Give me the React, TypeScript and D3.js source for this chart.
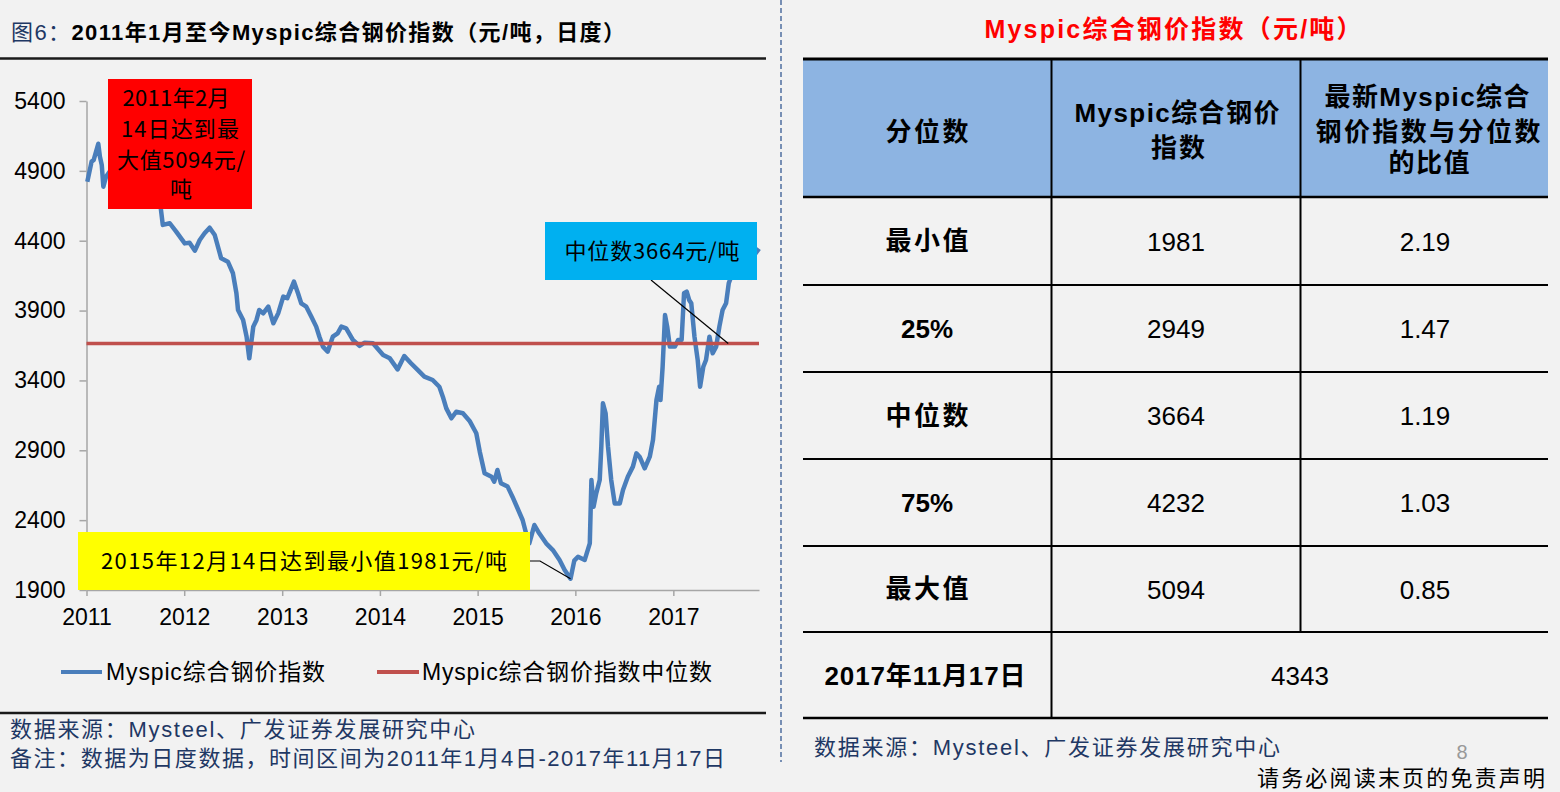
import React, { useEffect, useRef } from 'react';
import * as d3 from 'd3';

const W = 1560;
const H = 792;
const BG = '#f2f2f2';
const NAVY = '#1f3864';
const AXIS = '#a6a6a6';
const BLUE = '#4a7ebb';
const RED = '#c0504d';
const LATIN = '"Liberation Sans", Arial, "Noto Sans CJK SC", sans-serif';
const CJK = '"Noto Sans CJK SC", "Liberation Sans", sans-serif';

// Myspic 综合钢价指数, sampled off the daily series (元/吨)
const indexDates = [
  '2011-01-04', '2011-01-20', '2011-01-28', '2011-02-14', '2011-02-20', '2011-02-27', '2011-03-05', '2011-03-15',
  '2011-04-10', '2011-05-10', '2011-06-10', '2011-07-10', '2011-08-10', '2011-09-10', '2011-10-05', '2011-10-13',
  '2011-11-08', '2011-12-02', '2012-01-03', '2012-01-21', '2012-02-10', '2012-02-28', '2012-03-17', '2012-04-05',
  '2012-04-24', '2012-05-18', '2012-06-12', '2012-07-01', '2012-07-14', '2012-07-20', '2012-08-08', '2012-08-21',
  '2012-08-31', '2012-09-15', '2012-09-27', '2012-10-07', '2012-10-22', '2012-11-10', '2012-11-29', '2012-12-17',
  '2013-01-05', '2013-01-20', '2013-01-30', '2013-02-14', '2013-03-01', '2013-03-13', '2013-04-01', '2013-04-20',
  '2013-05-08', '2013-05-20', '2013-06-02', '2013-06-20', '2013-07-09', '2013-07-27', '2013-08-10', '2013-08-28',
  '2013-09-22', '2013-10-17', '2013-11-05', '2013-12-06', '2014-01-13', '2014-02-07', '2014-03-08', '2014-04-02',
  '2014-04-27', '2014-05-22', '2014-06-16', '2014-07-17', '2014-08-11', '2014-08-24', '2014-09-06', '2014-09-25',
  '2014-10-13', '2014-11-07', '2014-12-02', '2014-12-27', '2015-01-09', '2015-01-27', '2015-02-22', '2015-03-04',
  '2015-03-16', '2015-03-29', '2015-04-23', '2015-05-11', '2015-05-30', '2015-06-18', '2015-07-01', '2015-07-13',
  '2015-08-01', '2015-08-19', '2015-09-14', '2015-10-09', '2015-11-03', '2015-11-22', '2015-12-14', '2015-12-28',
  '2016-01-11', '2016-02-05', '2016-02-24', '2016-03-01', '2016-03-09', '2016-03-19', '2016-04-01', '2016-04-07',
  '2016-04-13', '2016-04-23', '2016-05-02', '2016-05-14', '2016-05-27', '2016-06-15', '2016-06-27', '2016-07-15',
  '2016-08-03', '2016-08-16', '2016-08-28', '2016-09-16', '2016-10-05', '2016-10-17', '2016-10-30', '2016-11-09',
  '2016-11-14', '2016-11-22', '2016-12-01', '2016-12-09', '2016-12-19', '2017-01-07', '2017-01-19', '2017-02-01',
  '2017-02-10', '2017-02-20', '2017-03-01', '2017-03-09', '2017-03-21', '2017-04-02', '2017-04-11', '2017-04-23',
  '2017-05-03', '2017-05-16', '2017-05-28', '2017-06-10', '2017-06-22', '2017-07-04', '2017-07-17', '2017-07-27',
  '2017-08-20', '2017-09-12', '2017-10-12', '2017-11-17',
];
const indexValues = [
  4822, 4966, 4978, 5094, 5002, 4942, 4787, 4858,
  4930, 4860, 4800, 4870, 4900, 4800, 4640, 4513,
  4525, 4465, 4381, 4386, 4329, 4405, 4453, 4493,
  4441, 4274, 4250, 4167, 4024, 3904, 3833, 3713,
  3558, 3785, 3833, 3904, 3880, 3928, 3809, 3880,
  4000, 3988, 4036, 4107, 4024, 3952, 3928, 3856,
  3785, 3713, 3642, 3606, 3713, 3737, 3785, 3773,
  3690, 3647, 3670, 3666, 3582, 3558, 3479, 3575,
  3523, 3475, 3427, 3403, 3355, 3284, 3200, 3129,
  3176, 3165, 3110, 3022, 2890, 2735, 2711, 2675,
  2759, 2664, 2640, 2568, 2485, 2401, 2306, 2234,
  2365, 2306, 2234, 2186, 2115, 2043, 1981, 2110,
  2138, 2115, 2234, 2687, 2496, 2592, 2687, 2926,
  3236, 3165, 2926, 2687, 2520, 2520, 2616, 2711,
  2783, 2878, 2854, 2771, 2854, 2974, 3260, 3355,
  3260, 3498, 3868, 3785, 3642, 3642, 3690, 3690,
  4024, 4036, 3976, 3952, 3713, 3546, 3355, 3498,
  3546, 3713, 3594, 3642, 3785, 3904, 3952, 4095,
  4220, 4330, 4250, 4343,
];
const medianValue = 3664;
const yTicks = [1900, 2400, 2900, 3400, 3900, 4400, 4900, 5400];
const xTickYears = [2011, 2012, 2013, 2014, 2015, 2016, 2017];

// table on the right
const quantileLabels = ['最小值', '25%', '中位数', '75%', '最大值'];
const quantileValues = ['1981', '2949', '3664', '4232', '5094'];
const latestRatios = ['2.19', '1.47', '1.19', '1.03', '0.85'];
const latestDate = '2017年11月17日';
const latestValue = '4343';

const parseDate = d3.timeParse('%Y-%m-%d');
const series = indexDates.map((d, i) => ({ date: parseDate(d) as Date, value: indexValues[i] }));

const x = d3
  .scaleTime()
  .domain([new Date(2011, 0, 1), new Date(2017, 10, 17)])
  .range([86.5, 759]);
const y = d3.scaleLinear().domain([1900, 5400]).range([590, 101]);

const Chart = () => {
  const axisRef = useRef<SVGGElement>(null);

  useEffect(() => {
    const g = d3.select(axisRef.current);
    g.selectAll('*').remove();

    const yAxis = g
      .append('g')
      .attr('transform', `translate(${x.range()[0]},0)`)
      .call(
        d3
          .axisLeft(y)
          .tickValues(yTicks)
          .tickFormat(d3.format('d'))
          .tickSize(7)
          .tickSizeOuter(0)
          .tickPadding(14)
      );
    const xAxis = g
      .append('g')
      .attr('transform', `translate(0,${y.range()[0]})`)
      .call(
        d3
          .axisBottom(x)
          .tickValues(xTickYears.map((yr) => new Date(yr, 0, 1)))
          .tickFormat((d) => d3.timeFormat('%Y')(d as Date))
          .tickSize(6)
          .tickSizeOuter(0)
          .tickPadding(13)
      );
    for (const a of [yAxis, xAxis]) {
      a.select('.domain').attr('stroke', AXIS).attr('stroke-width', 1.5);
      a.selectAll('.tick line').attr('stroke', AXIS).attr('stroke-width', 1.5);
      a.selectAll('.tick text')
        .attr('fill', '#000')
        .attr('font-size', 23)
        .attr('font-family', LATIN);
    }
  }, []);

  const line = d3
    .line<{ date: Date; value: number }>()
    .x((d) => x(d.date))
    .y((d) => y(d.value));

  const minPt = series[d3.minIndex(series, (d) => d.value)];
  const x0 = x.range()[0];
  const x1 = x.range()[1];
  const yMed = y(medianValue);
  const medAnchorX = x(new Date(2017, 6, 25));

  return (
    <g>
      <g ref={axisRef} />
      <path d={line(series) ?? ''} fill="none" stroke={BLUE} strokeWidth={4.5} strokeLinejoin="round" />
      <line x1={x0} x2={x1} y1={yMed} y2={yMed} stroke={RED} strokeWidth={3.5} />

      {/* max annotation */}
      <rect x={108} y={79} width={144} height={130} fill="#ff0000" />
      <g fontFamily={CJK} fontSize={22} textAnchor="middle" fill="#000">
        <text x={176} y={106} textLength={107} lengthAdjust="spacing">2011年2月</text>
        <text x={180} y={137} textLength={118} lengthAdjust="spacing">14日达到最</text>
        <text x={181} y={168} textLength={128} lengthAdjust="spacing">大值5094元/</text>
        <text x={181} y={197}>吨</text>
      </g>

      {/* min annotation */}
      <polyline
        points={`530,561 540,561 ${x(minPt.date)},${y(minPt.value)}`}
        fill="none"
        stroke="#000"
        strokeWidth={1.2}
      />
      <rect x={78} y={532} width={452} height={58} fill="#ffff00" />
      <text x={304} y={569} fontFamily={CJK} fontSize={22} textAnchor="middle" textLength={406} lengthAdjust="spacing">
        2015年12月14日达到最小值1981元/吨
      </text>

      {/* median annotation */}
      <line x1={651} y1={280} x2={medAnchorX} y2={yMed} stroke="#000" strokeWidth={1.2} />
      <rect x={545} y={222} width={212} height={58} fill="#00b0f0" />
      <text x={652} y={259} fontFamily={CJK} fontSize={22} textAnchor="middle" textLength={175} lengthAdjust="spacing">
        中位数3664元/吨
      </text>

      {/* legend */}
      <line x1={61} x2={102} y1={672} y2={672} stroke={BLUE} strokeWidth={4} />
      <text x={106} y={680} fontFamily={LATIN} fontSize={23} textLength={219} lengthAdjust="spacing">
        Myspic综合钢价指数
      </text>
      <line x1={377} x2={419} y1={672} y2={672} stroke={RED} strokeWidth={4} />
      <text x={422} y={680} fontFamily={LATIN} fontSize={23} textLength={290} lengthAdjust="spacing">
        Myspic综合钢价指数中位数
      </text>
    </g>
  );
};

const Table = () => {
  const left = 803;
  const right = 1548;
  const colX = [left, 1051.5, 1300.5, right];
  const colMid = [927, 1176, 1425];
  const headTop = 59;
  const rowLines = [197, 285, 372, 459, 546, 632, 718];
  const rowMid = rowLines.slice(0, -1).map((r, i) => (r + rowLines[i + 1]) / 2);

  return (
    <g>
      <text x={1173} y={38} fill="#ff0000" fontFamily={LATIN} fontWeight="bold" fontSize={25} textAnchor="middle" textLength={377} lengthAdjust="spacing">
        Myspic综合钢价指数（元/吨）
      </text>
      <rect x={left} y={headTop} width={right - left} height={rowLines[0] - headTop} fill="#8db4e2" />

      <g fontFamily={LATIN} fontWeight="bold" fontSize={26} textAnchor="middle" fill="#000">
        <text x={colMid[0]} y={141} textLength={83} lengthAdjust="spacing">分位数</text>
        <text x={1177} y={122} textLength={205} lengthAdjust="spacing">Myspic综合钢价</text>
        <text x={1178} y={157} textLength={54} lengthAdjust="spacing">指数</text>
        <text x={1427} y={106} textLength={205} lengthAdjust="spacing">最新Myspic综合</text>
        <text x={1428} y={141} textLength={225} lengthAdjust="spacing">钢价指数与分位数</text>
        <text x={1429} y={172} textLength={81} lengthAdjust="spacing">的比值</text>
      </g>

      {quantileLabels.map((lab, i) => {
        const cjk = /[\u4e00-\u9fff]/.test(lab);
        return (
          <g key={lab} textAnchor="middle" fill="#000">
            <text
              x={colMid[0]}
              y={rowMid[i] + 9}
              fontFamily={LATIN}
              fontWeight="bold"
              fontSize={26}
              textLength={cjk ? 83 : undefined}
              lengthAdjust="spacing"
            >
              {lab}
            </text>
            <text x={colMid[1]} y={rowMid[i] + 9.5} fontFamily={LATIN} fontSize={26}>
              {quantileValues[i]}
            </text>
            <text x={colMid[2]} y={rowMid[i] + 9.5} fontFamily={LATIN} fontSize={26}>
              {latestRatios[i]}
            </text>
          </g>
        );
      })}
      <text x={colMid[0] - 2} y={rowMid[5] + 9.5} fontFamily={LATIN} fontWeight="bold" fontSize={26} textAnchor="middle" textLength={201} lengthAdjust="spacing">
        {latestDate}
      </text>
      <text x={1300} y={rowMid[5] + 9.5} fontFamily={LATIN} fontSize={26} textAnchor="middle">
        {latestValue}
      </text>

      <g stroke="#000">
        <line x1={left} x2={right} y1={headTop} y2={headTop} strokeWidth={3} />
        {rowLines.map((r, i) => (
          <line key={r} x1={left} x2={right} y1={r} y2={r} strokeWidth={i === 0 || i === rowLines.length - 1 ? 2.5 : 2} />
        ))}
        <line x1={colX[1]} x2={colX[1]} y1={headTop} y2={rowLines[6]} strokeWidth={2} />
        <line x1={colX[2]} x2={colX[2]} y1={headTop} y2={rowLines[5]} strokeWidth={2} />
      </g>
    </g>
  );
};

export default function App() {
  return (
    <svg
      width={W}
      height={H}
      viewBox={`0 0 ${W} ${H}`}
      style={{ position: 'absolute', left: 0, top: 0, background: BG }}
    >
      <rect width={W} height={H} fill={BG} />

      {/* left panel heading */}
      <text x={11} y={40} fontFamily={LATIN} fontSize={22} textLength={614} lengthAdjust="spacing">
        <tspan fill={NAVY}>图6：</tspan>
        <tspan fontWeight="bold" fill="#000">2011年1月至今Myspic综合钢价指数（元/吨，日度）</tspan>
      </text>
      <line x1={0} x2={766} y1={58.5} y2={58.5} stroke="#1a1a1a" strokeWidth={2.5} />

      <Chart />

      <line x1={0} x2={766} y1={713} y2={713} stroke="#1a1a1a" strokeWidth={2.5} />
      <g fontFamily={LATIN} fontSize={22} fill={NAVY}>
        <text x={10} y={737} textLength={465} lengthAdjust="spacing">数据来源：Mysteel、广发证券发展研究中心</text>
        <text x={10} y={766} textLength={715} lengthAdjust="spacing">备注：数据为日度数据，时间区间为2011年1月4日-2017年11月17日</text>
      </g>

      <line x1={781} x2={781} y1={0} y2={762} stroke="#4f6fa0" strokeWidth={1.5} strokeDasharray="5,3" />

      <Table />

      <text x={814} y={755} fontFamily={LATIN} fontSize={22} fill={NAVY} textLength={466} lengthAdjust="spacing">
        数据来源：Mysteel、广发证券发展研究中心
      </text>
      <text x={1462} y={759} fontFamily={LATIN} fontSize={20} fill="#999" textAnchor="middle">8</text>
      <text x={1257} y={786} fontFamily={CJK} fontSize={22} fill="#000" textLength={288} lengthAdjust="spacing">
        请务必阅读末页的免责声明
      </text>
    </svg>
  );
}
